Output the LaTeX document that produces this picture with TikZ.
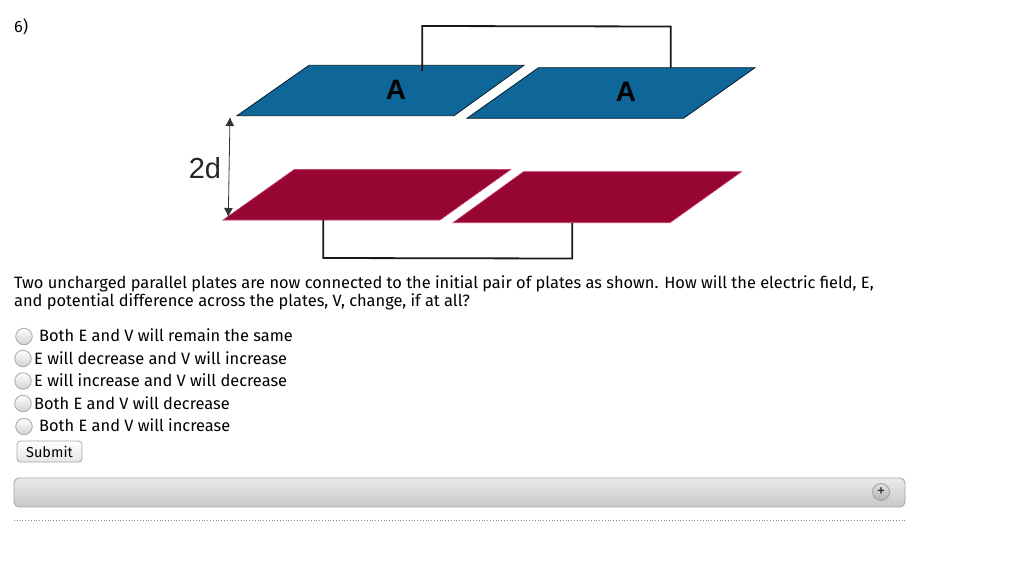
\documentclass[tikz,border=0pt]{standalone}
\usepackage{fontspec}
\usetikzlibrary{arrows.meta}
\setmainfont{Fira Sans}
\newfontfamily\labelfont{Liberation Sans}
\definecolor{plateblue}{HTML}{0E6699}
\definecolor{platered}{HTML}{970533}
\definecolor{platepink}{HTML}{C8406F}
\tikzset{
  blueplate/.style={fill=plateblue,draw=black!70!plateblue,line width=0.8pt},
  redplate/.style={fill=platered,draw=platepink,line width=0.6pt},
  wire/.style={draw=black!90,line width=1.8pt},
  platelabel/.style={font=\labelfont\bfseries\fontsize{28}{28}\selectfont,text=black},
  gaplabel/.style={font=\labelfont\fontsize{29}{29}\selectfont,text=black!85},
  body/.style={anchor=base west,inner sep=0pt,font=\fontsize{16.4}{16.4}\selectfont,text=black},
  radio/.style={circle,minimum size=16.5pt,inner sep=0pt,draw=black!35,line width=0.8pt,top color=white,bottom color=black!18},
}
\begin{document}
\begin{tikzpicture}[x=1pt,y=-1pt]
  \useasboundingbox (0,0) rectangle (1024,571);
  % plates
  \filldraw[blueplate] (237,115.7) -- (309,65.3) -- (524,65.3) -- (454,115.7) -- cycle;
  \filldraw[blueplate] (467,118.3) -- (538.5,67.7) -- (755,67.7) -- (683.5,118.3) -- cycle;
  \filldraw[redplate] (223,220) -- (294.5,169.3) -- (511,169.3) -- (440,220) -- cycle;
  \filldraw[redplate] (453,222.7) -- (523.5,171.7) -- (741.5,171.7) -- (670,222.7) -- cycle;

  \node[platelabel] (Aleft) at (396,89.5) {A};
  \node[platelabel] (Aright) at (626,92) {A};
  \node[gaplabel] (gap) at (205,168.5) {2d};

  % wires
  \coordinate (Tl) at (422.3,71);
  \coordinate (Tla) at (422.3,26);
  \coordinate (Tra) at (670.7,26.5);
  \coordinate (Tr) at (670.7,68);
  \coordinate (Bl) at (323.3,220);
  \coordinate (Bla) at (323.3,258);
  \coordinate (Bra) at (572.3,258.5);
  \coordinate (Br) at (572.3,223);
  \draw[wire] (Tl) -- (Tla) -- (Tra) -- (Tr);
  \draw[wire] (Bl) -- (Bla) -- (Bra) -- (Br);

  \coordinate (Up) at (230,117);
  \coordinate (Dn) at (228.3,217);
  \draw[{Latex[length=9pt,width=9pt]}-{Latex[length=9pt,width=9pt]},line width=0.8pt,black!80] (Up) -- (Dn);

  % question
  \node[body] (num) at (14,32.5) {6)};
  \node[body] (q1) at (14,288) {Two uncharged parallel plates are now connected to the initial pair of plates as shown. How will the electric field, E,};
  \node[body] (q2) at (14,306) {and potential difference across the plates, V, change, if at all?};

  % options
  \node[radio] (r1) at (24,336.5) {};
  \node[radio] (r2) at (23,358.5) {};
  \node[radio] (r3) at (23,381) {};
  \node[radio] (r4) at (23,403.5) {};
  \node[radio] (r5) at (24,426.5) {};
  \node[body] (o1) at (39,341) {Both E and V will remain the same};
  \node[body] (o2) at (34,364) {E will decrease and V will increase};
  \node[body] (o3) at (34,386.5) {E will increase and V will decrease};
  \node[body] (o4) at (34,409) {Both E and V will decrease};
  \node[body] (o5) at (39,431.5) {Both E and V will increase};

  \node[draw=black!35,rounded corners=3.5pt,line width=0.8pt,top color=white,bottom color=black!10,minimum width=65pt,minimum height=21pt,inner sep=0pt,font=\fontsize{14.5}{14.5}\selectfont] (submit) at (49.5,451.5) {Submit};

  % bar
  \node[draw=black!35,rounded corners=5pt,line width=0.9pt,top color=black!8,bottom color=black!22,minimum width=891pt,minimum height=29pt,inner sep=0pt] (bar) at (459.5,492.5) {};
  \node[circle,draw=black!35,line width=1pt,minimum size=17pt,inner sep=0pt,top color=black!12,bottom color=black!30,text=black!80,font=\fontsize{17}{17}\selectfont] (plus) at (881,492) {+};
  \coordinate (Dl) at (14,520.5);
  \coordinate (Dr) at (905,520.5);
  \draw[black!45,line width=0.8pt,dotted] (Dl) -- (Dr);
\end{tikzpicture}
\end{document}
